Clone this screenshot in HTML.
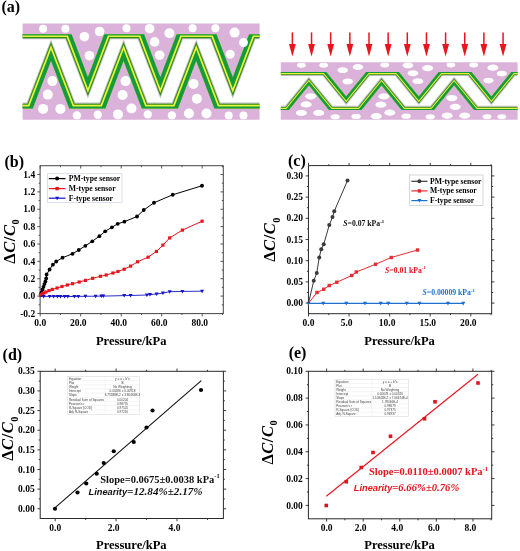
<!DOCTYPE html><html><head><meta charset="utf-8"><title>figure</title><style>html,body{margin:0;padding:0;background:#fff}svg{display:block}</style></head><body><svg width="520" height="551" viewBox="0 0 520 551">
<defs><filter id="blur" x="-5%" y="-20%" width="110%" height="140%"><feGaussianBlur stdDeviation="0.7"/></filter></defs>
<rect width="520" height="551" fill="#fff"/>
<clipPath id="cb"><rect x="22.6" y="39" width="237" height="80.8"/></clipPath>
<g clip-path="url(#cb)">
<polyline points="22.6,103.7 27.4,103.7 51,42 74.6,103.7 100,103.7 123.6,42 147.2,103.7 172.6,103.7 196.2,42 219.8,103.7 259.6,103.7" fill="none" stroke="#777" stroke-opacity="0.5" stroke-width="1.6" filter="url(#blur)" transform="translate(0,-0.3)"/>
<polygon points="17.6,108.1 22.6,108.1 32.46,108.1 51,59.63 69.54,108.1 105.06,108.1 123.6,59.63 142.14,108.1 177.66,108.1 196.2,59.63 214.74,108.1 259.6,108.1 264.6,108.1 264.6,124.8 17.6,124.8" fill="#dbb3da"/>
<polygon points="17.6,103.7 22.6,103.7 27.4,103.7 51,42 74.6,103.7 100,103.7 123.6,42 147.2,103.7 172.6,103.7 196.2,42 219.8,103.7 259.6,103.7 264.6,103.7 264.6,108.5 259.6,108.5 214.46,108.5 196.2,60.75 177.94,108.5 141.86,108.5 123.6,60.75 105.34,108.5 69.26,108.5 51,60.75 32.74,108.5 22.6,108.5 17.6,108.5" fill="#2f8a14"/>
<polygon points="17.6,104.85 22.6,104.85 28.08,104.85 51,44.94 73.92,104.85 100.68,104.85 123.6,44.94 146.52,104.85 173.28,104.85 196.2,44.94 219.12,104.85 259.6,104.85 264.6,104.85 264.6,108.5 259.6,108.5 214.46,108.5 196.2,60.75 177.94,108.5 141.86,108.5 123.6,60.75 105.34,108.5 69.26,108.5 51,60.75 32.74,108.5 22.6,108.5 17.6,108.5" fill="#e4f53a"/>
<polygon points="17.6,106.55 22.6,106.55 29.31,106.55 51,49.84 72.69,106.55 101.91,106.55 123.6,49.84 145.29,106.55 174.51,106.55 196.2,49.84 217.89,106.55 259.6,106.55 264.6,106.55 264.6,108.5 259.6,108.5 214.46,108.5 196.2,60.75 177.94,108.5 141.86,108.5 123.6,60.75 105.34,108.5 69.26,108.5 51,60.75 32.74,108.5 22.6,108.5 17.6,108.5" fill="#169a3e"/>
<ellipse cx="52.4" cy="81.1" rx="5" ry="5" fill="#fff"/>
<ellipse cx="47.8" cy="94.6" rx="5" ry="5" fill="#fff"/>
<ellipse cx="43.1" cy="108.9" rx="5" ry="5" fill="#fff"/>
<ellipse cx="60.4" cy="108.9" rx="5" ry="5" fill="#fff"/>
<ellipse cx="76.9" cy="115.4" rx="4.2" ry="4.2" fill="#fff"/>
<ellipse cx="97.8" cy="114.8" rx="4.2" ry="4.2" fill="#fff"/>
<ellipse cx="125.6" cy="81.1" rx="5" ry="5" fill="#fff"/>
<ellipse cx="122.6" cy="95" rx="5" ry="5" fill="#fff"/>
<ellipse cx="131.5" cy="108.5" rx="5" ry="5" fill="#fff"/>
<ellipse cx="118" cy="114.4" rx="5" ry="5" fill="#fff"/>
<ellipse cx="147.8" cy="114.4" rx="4.2" ry="4.2" fill="#fff"/>
<ellipse cx="171.9" cy="115.4" rx="4.2" ry="4.2" fill="#fff"/>
<ellipse cx="193.5" cy="83.9" rx="5" ry="5" fill="#fff"/>
<ellipse cx="196.9" cy="98.7" rx="5" ry="5" fill="#fff"/>
<ellipse cx="188.9" cy="113.5" rx="5" ry="5" fill="#fff"/>
<ellipse cx="206.5" cy="113.5" rx="5" ry="5" fill="#fff"/>
<ellipse cx="228.7" cy="115.4" rx="4" ry="4" fill="#fff"/>
<ellipse cx="243.5" cy="115.4" rx="4" ry="4" fill="#fff"/>
</g>
<clipPath id="ct"><rect x="22.6" y="23.6" width="237" height="75.4"/></clipPath>
<g clip-path="url(#ct)">
<polyline points="22.6,38.2 65.9,38.2 87.9,96 109.9,38.2 138.35,38.2 160.35,96 182.35,38.2 210.8,38.2 232.8,96 254.8,38.2 259.6,38.2" fill="none" stroke="#777" stroke-opacity="0.5" stroke-width="1.6" filter="url(#blur)" transform="translate(0,0.3)"/>
<polygon points="17.6,34.7 22.6,34.7 71.31,34.7 87.9,78.29 104.49,34.7 143.76,34.7 160.35,78.29 176.94,34.7 216.21,34.7 232.8,78.29 249.39,34.7 259.6,34.7 264.6,34.7 264.6,18.6 17.6,18.6" fill="#dbb3da"/>
<polygon points="17.6,38.2 22.6,38.2 65.9,38.2 87.9,96 109.9,38.2 138.35,38.2 160.35,96 182.35,38.2 210.8,38.2 232.8,96 254.8,38.2 259.6,38.2 264.6,38.2 264.6,34.3 259.6,34.3 249.12,34.3 232.8,77.17 216.48,34.3 176.67,34.3 160.35,77.17 144.03,34.3 104.22,34.3 87.9,77.17 71.58,34.3 22.6,34.3 17.6,34.3" fill="#2f8a14"/>
<polygon points="17.6,37.1 22.6,37.1 66.6,37.1 87.9,93.05 109.2,37.1 139.05,37.1 160.35,93.05 181.65,37.1 211.5,37.1 232.8,93.05 254.1,37.1 259.6,37.1 264.6,37.1 264.6,34.3 259.6,34.3 249.12,34.3 232.8,77.17 216.48,34.3 176.67,34.3 160.35,77.17 144.03,34.3 104.22,34.3 87.9,77.17 71.58,34.3 22.6,34.3 17.6,34.3" fill="#e4f53a"/>
<polygon points="17.6,35.6 22.6,35.6 67.91,35.6 87.9,88.13 107.89,35.6 140.36,35.6 160.35,88.13 180.34,35.6 212.81,35.6 232.8,88.13 252.79,35.6 259.6,35.6 264.6,35.6 264.6,34.3 259.6,34.3 249.12,34.3 232.8,77.17 216.48,34.3 176.67,34.3 160.35,77.17 144.03,34.3 104.22,34.3 87.9,77.17 71.58,34.3 22.6,34.3 17.6,34.3" fill="#169a3e"/>
<ellipse cx="43.1" cy="28.7" rx="4" ry="4" fill="#fff"/>
<ellipse cx="65.4" cy="28.7" rx="4" ry="4" fill="#fff"/>
<ellipse cx="84.4" cy="36.7" rx="4.8" ry="4.8" fill="#fff"/>
<ellipse cx="99.6" cy="31.5" rx="4.8" ry="4.8" fill="#fff"/>
<ellipse cx="89.4" cy="55.7" rx="4.8" ry="4.8" fill="#fff"/>
<ellipse cx="126.5" cy="28.3" rx="4" ry="4" fill="#fff"/>
<ellipse cx="149.6" cy="28.7" rx="4.8" ry="4.8" fill="#fff"/>
<ellipse cx="169.4" cy="33.3" rx="5" ry="5" fill="#fff"/>
<ellipse cx="154.6" cy="41.9" rx="4.8" ry="4.8" fill="#fff"/>
<ellipse cx="159.6" cy="55.2" rx="4.8" ry="4.8" fill="#fff"/>
<ellipse cx="192.6" cy="28.3" rx="4" ry="4" fill="#fff"/>
<ellipse cx="215.4" cy="28.3" rx="4" ry="4" fill="#fff"/>
<ellipse cx="234.6" cy="32.6" rx="5" ry="5" fill="#fff"/>
<ellipse cx="243.5" cy="42.6" rx="4.5" ry="4.5" fill="#fff"/>
<ellipse cx="230.2" cy="54.3" rx="4.5" ry="4.5" fill="#fff"/>
</g>
<clipPath id="cb2"><rect x="280.8" y="75.4" width="236.8" height="44.4"/></clipPath>
<g clip-path="url(#cb2)">
<polyline points="280.8,106.9 285.6,106.9 308.9,78.4 332.2,106.9 358.2,106.9 381.5,78.4 404.8,106.9 430.8,106.9 454.1,78.4 477.4,106.9 517.6,106.9" fill="none" stroke="#777" stroke-opacity="0.5" stroke-width="1.6" filter="url(#blur)" transform="translate(0,-0.3)"/>
<polygon points="275.8,109.5 280.8,109.5 288.64,109.5 308.9,84.72 329.16,109.5 361.24,109.5 381.5,84.72 401.76,109.5 433.84,109.5 454.1,84.72 474.36,109.5 517.6,109.5 522.6,109.5 522.6,124.8 275.8,124.8" fill="#dbb3da"/>
<polygon points="275.8,106.9 280.8,106.9 285.6,106.9 308.9,78.4 332.2,106.9 358.2,106.9 381.5,78.4 404.8,106.9 430.8,106.9 454.1,78.4 477.4,106.9 517.6,106.9 522.6,106.9 522.6,109.9 517.6,109.9 474.17,109.9 454.1,85.35 434.03,109.9 401.57,109.9 381.5,85.35 361.43,109.9 328.97,109.9 308.9,85.35 288.83,109.9 280.8,109.9 275.8,109.9" fill="#2f8a14"/>
<polygon points="275.8,107.7 280.8,107.7 285.98,107.7 308.9,79.66 331.82,107.7 358.58,107.7 381.5,79.66 404.42,107.7 431.18,107.7 454.1,79.66 477.02,107.7 517.6,107.7 522.6,107.7 522.6,109.9 517.6,109.9 474.17,109.9 454.1,85.35 434.03,109.9 401.57,109.9 381.5,85.35 361.43,109.9 328.97,109.9 308.9,85.35 288.83,109.9 280.8,109.9 275.8,109.9" fill="#e4f53a"/>
<polygon points="275.8,108.9 280.8,108.9 286.29,108.9 308.9,81.24 331.51,108.9 358.89,108.9 381.5,81.24 404.11,108.9 431.49,108.9 454.1,81.24 476.71,108.9 517.6,108.9 522.6,108.9 522.6,109.9 517.6,109.9 474.17,109.9 454.1,85.35 434.03,109.9 401.57,109.9 381.5,85.35 361.43,109.9 328.97,109.9 308.9,85.35 288.83,109.9 280.8,109.9 275.8,109.9" fill="#169a3e"/>
<ellipse cx="310.7" cy="96.37" rx="5.5" ry="3.1" fill="#fff"/>
<ellipse cx="306.1" cy="104.41" rx="5.5" ry="3.1" fill="#fff"/>
<ellipse cx="301.4" cy="112.91" rx="5.5" ry="3.1" fill="#fff"/>
<ellipse cx="318.7" cy="112.91" rx="5.5" ry="3.1" fill="#fff"/>
<ellipse cx="335.2" cy="116.78" rx="4.62" ry="2.6" fill="#fff"/>
<ellipse cx="356.1" cy="116.43" rx="4.62" ry="2.6" fill="#fff"/>
<ellipse cx="383.9" cy="96.37" rx="5.5" ry="3.1" fill="#fff"/>
<ellipse cx="380.9" cy="104.64" rx="5.5" ry="3.1" fill="#fff"/>
<ellipse cx="389.8" cy="112.68" rx="5.5" ry="3.1" fill="#fff"/>
<ellipse cx="376.3" cy="116.19" rx="5.5" ry="3.1" fill="#fff"/>
<ellipse cx="406.1" cy="116.19" rx="4.62" ry="2.6" fill="#fff"/>
<ellipse cx="430.2" cy="116.78" rx="4.62" ry="2.6" fill="#fff"/>
<ellipse cx="451.8" cy="98.04" rx="5.5" ry="3.1" fill="#fff"/>
<ellipse cx="455.2" cy="106.85" rx="5.5" ry="3.1" fill="#fff"/>
<ellipse cx="447.2" cy="115.65" rx="5.5" ry="3.1" fill="#fff"/>
<ellipse cx="464.8" cy="115.65" rx="5.5" ry="3.1" fill="#fff"/>
<ellipse cx="487" cy="116.78" rx="4.4" ry="2.48" fill="#fff"/>
<ellipse cx="501.8" cy="116.78" rx="4.4" ry="2.48" fill="#fff"/>
</g>
<clipPath id="ct2"><rect x="280.8" y="62.3" width="236.8" height="44.1"/></clipPath>
<g clip-path="url(#ct2)">
<polyline points="280.8,75 323.1,75 346.2,103.4 369.3,75 395.7,75 418.8,103.4 441.9,75 468.3,75 491.4,103.4 514.5,75 517.6,75" fill="none" stroke="#777" stroke-opacity="0.5" stroke-width="1.6" filter="url(#blur)" transform="translate(0,0.3)"/>
<polygon points="275.8,72.3 280.8,72.3 326.06,72.3 346.2,97.06 366.34,72.3 398.66,72.3 418.8,97.06 438.94,72.3 471.26,72.3 491.4,97.06 511.54,72.3 517.6,72.3 522.6,72.3 522.6,57.3 275.8,57.3" fill="#dbb3da"/>
<polygon points="275.8,75 280.8,75 323.1,75 346.2,103.4 369.3,75 395.7,75 418.8,103.4 441.9,75 468.3,75 491.4,103.4 514.5,75 517.6,75 522.6,75 522.6,71.9 517.6,71.9 511.35,71.9 491.4,96.43 471.45,71.9 438.75,71.9 418.8,96.43 398.85,71.9 366.15,71.9 346.2,96.43 326.25,71.9 280.8,71.9 275.8,71.9" fill="#2f8a14"/>
<polygon points="275.8,74.2 280.8,74.2 323.48,74.2 346.2,102.13 368.92,74.2 396.08,74.2 418.8,102.13 441.52,74.2 468.68,74.2 491.4,102.13 514.12,74.2 517.6,74.2 522.6,74.2 522.6,71.9 517.6,71.9 511.35,71.9 491.4,96.43 471.45,71.9 438.75,71.9 418.8,96.43 398.85,71.9 366.15,71.9 346.2,96.43 326.25,71.9 280.8,71.9 275.8,71.9" fill="#e4f53a"/>
<polygon points="275.8,73 280.8,73 323.79,73 346.2,100.55 368.61,73 396.39,73 418.8,100.55 441.21,73 468.99,73 491.4,100.55 513.81,73 517.6,73 522.6,73 522.6,71.9 517.6,71.9 511.35,71.9 491.4,96.43 471.45,71.9 438.75,71.9 418.8,96.43 398.85,71.9 366.15,71.9 346.2,96.43 326.25,71.9 280.8,71.9 275.8,71.9" fill="#169a3e"/>
<ellipse cx="301.4" cy="65.34" rx="4.4" ry="2.48" fill="#fff"/>
<ellipse cx="323.7" cy="65.34" rx="4.4" ry="2.48" fill="#fff"/>
<ellipse cx="342.7" cy="70.11" rx="5.28" ry="2.98" fill="#fff"/>
<ellipse cx="357.9" cy="67.01" rx="5.28" ry="2.98" fill="#fff"/>
<ellipse cx="347.7" cy="81.43" rx="5.28" ry="2.98" fill="#fff"/>
<ellipse cx="384.8" cy="65.1" rx="4.4" ry="2.48" fill="#fff"/>
<ellipse cx="407.9" cy="65.34" rx="5.28" ry="2.98" fill="#fff"/>
<ellipse cx="427.7" cy="68.08" rx="5.5" ry="3.1" fill="#fff"/>
<ellipse cx="412.9" cy="73.21" rx="5.28" ry="2.98" fill="#fff"/>
<ellipse cx="417.9" cy="81.13" rx="5.28" ry="2.98" fill="#fff"/>
<ellipse cx="450.9" cy="65.1" rx="4.4" ry="2.48" fill="#fff"/>
<ellipse cx="473.7" cy="65.1" rx="4.4" ry="2.48" fill="#fff"/>
<ellipse cx="492.9" cy="67.66" rx="5.5" ry="3.1" fill="#fff"/>
<ellipse cx="501.8" cy="73.62" rx="4.95" ry="2.79" fill="#fff"/>
<ellipse cx="488.5" cy="80.6" rx="4.95" ry="2.79" fill="#fff"/>
</g>
<path d="M292.4 32.4V45" stroke="#e8141e" stroke-width="1.5" fill="none"/>
<path d="M289 44.1H295.8L292.4 56.4Z" fill="#e8141e"/>
<path d="M311.55 32.4V45" stroke="#e8141e" stroke-width="1.5" fill="none"/>
<path d="M308.15 44.1H314.95L311.55 56.4Z" fill="#e8141e"/>
<path d="M330.7 32.4V45" stroke="#e8141e" stroke-width="1.5" fill="none"/>
<path d="M327.3 44.1H334.1L330.7 56.4Z" fill="#e8141e"/>
<path d="M349.85 32.4V45" stroke="#e8141e" stroke-width="1.5" fill="none"/>
<path d="M346.45 44.1H353.25L349.85 56.4Z" fill="#e8141e"/>
<path d="M369 32.4V45" stroke="#e8141e" stroke-width="1.5" fill="none"/>
<path d="M365.6 44.1H372.4L369 56.4Z" fill="#e8141e"/>
<path d="M388.15 32.4V45" stroke="#e8141e" stroke-width="1.5" fill="none"/>
<path d="M384.75 44.1H391.55L388.15 56.4Z" fill="#e8141e"/>
<path d="M407.3 32.4V45" stroke="#e8141e" stroke-width="1.5" fill="none"/>
<path d="M403.9 44.1H410.7L407.3 56.4Z" fill="#e8141e"/>
<path d="M426.45 32.4V45" stroke="#e8141e" stroke-width="1.5" fill="none"/>
<path d="M423.05 44.1H429.85L426.45 56.4Z" fill="#e8141e"/>
<path d="M445.6 32.4V45" stroke="#e8141e" stroke-width="1.5" fill="none"/>
<path d="M442.2 44.1H449L445.6 56.4Z" fill="#e8141e"/>
<path d="M464.75 32.4V45" stroke="#e8141e" stroke-width="1.5" fill="none"/>
<path d="M461.35 44.1H468.15L464.75 56.4Z" fill="#e8141e"/>
<path d="M483.9 32.4V45" stroke="#e8141e" stroke-width="1.5" fill="none"/>
<path d="M480.5 44.1H487.3L483.9 56.4Z" fill="#e8141e"/>
<path d="M503.05 32.4V45" stroke="#e8141e" stroke-width="1.5" fill="none"/>
<path d="M499.65 44.1H506.45L503.05 56.4Z" fill="#e8141e"/>
<rect x="40.1" y="165.7" width="183.2" height="147.9" fill="#fff" stroke="#444" stroke-width="1"/>
<text x="40.2" y="325.8" font-family='"Liberation Serif","Times New Roman",serif' font-size="9.5" font-weight="bold" font-style="normal" text-anchor="middle" fill="#000">0.0</text>
<text x="78.2" y="325.8" font-family='"Liberation Serif","Times New Roman",serif' font-size="9.5" font-weight="bold" font-style="normal" text-anchor="middle" fill="#000">20.0</text>
<text x="118.7" y="325.8" font-family='"Liberation Serif","Times New Roman",serif' font-size="9.5" font-weight="bold" font-style="normal" text-anchor="middle" fill="#000">40.0</text>
<text x="159.2" y="325.8" font-family='"Liberation Serif","Times New Roman",serif' font-size="9.5" font-weight="bold" font-style="normal" text-anchor="middle" fill="#000">60.0</text>
<text x="199.7" y="325.8" font-family='"Liberation Serif","Times New Roman",serif' font-size="9.5" font-weight="bold" font-style="normal" text-anchor="middle" fill="#000">80.0</text>
<text x="35.2" y="316.61" font-family='"Liberation Serif","Times New Roman",serif' font-size="9.5" font-weight="bold" font-style="normal" text-anchor="end" fill="#000">-0.2</text>
<text x="35.2" y="299.24" font-family='"Liberation Serif","Times New Roman",serif' font-size="9.5" font-weight="bold" font-style="normal" text-anchor="end" fill="#000">0.0</text>
<text x="35.2" y="281.87" font-family='"Liberation Serif","Times New Roman",serif' font-size="9.5" font-weight="bold" font-style="normal" text-anchor="end" fill="#000">0.2</text>
<text x="35.2" y="264.5" font-family='"Liberation Serif","Times New Roman",serif' font-size="9.5" font-weight="bold" font-style="normal" text-anchor="end" fill="#000">0.4</text>
<text x="35.2" y="247.13" font-family='"Liberation Serif","Times New Roman",serif' font-size="9.5" font-weight="bold" font-style="normal" text-anchor="end" fill="#000">0.6</text>
<text x="35.2" y="229.75" font-family='"Liberation Serif","Times New Roman",serif' font-size="9.5" font-weight="bold" font-style="normal" text-anchor="end" fill="#000">0.8</text>
<text x="35.2" y="212.39" font-family='"Liberation Serif","Times New Roman",serif' font-size="9.5" font-weight="bold" font-style="normal" text-anchor="end" fill="#000">1.0</text>
<text x="35.2" y="195.02" font-family='"Liberation Serif","Times New Roman",serif' font-size="9.5" font-weight="bold" font-style="normal" text-anchor="end" fill="#000">1.2</text>
<text x="35.2" y="177.65" font-family='"Liberation Serif","Times New Roman",serif' font-size="9.5" font-weight="bold" font-style="normal" text-anchor="end" fill="#000">1.4</text>
<path d="M40.2 313.6V316.4M40.2 165.7V168.5M80.7 313.6V316.4M80.7 165.7V168.5M121.2 313.6V316.4M121.2 165.7V168.5M161.7 313.6V316.4M161.7 165.7V168.5M202.2 313.6V316.4M202.2 165.7V168.5M60.45 313.6V315.1M60.45 165.7V167.2M100.95 313.6V315.1M100.95 165.7V167.2M141.45 313.6V315.1M141.45 165.7V167.2M181.95 313.6V315.1M181.95 165.7V167.2M222.45 313.6V315.1M222.45 165.7V167.2M40.1 313.47H37.3M223.3 313.47H220.5M40.1 296.1H37.3M223.3 296.1H220.5M40.1 278.73H37.3M223.3 278.73H220.5M40.1 261.36H37.3M223.3 261.36H220.5M40.1 243.99H37.3M223.3 243.99H220.5M40.1 226.62H37.3M223.3 226.62H220.5M40.1 209.25H37.3M223.3 209.25H220.5M40.1 191.88H37.3M223.3 191.88H220.5M40.1 174.51H37.3M223.3 174.51H220.5M40.1 304.79H38.6M223.3 304.79H221.8M40.1 287.42H38.6M223.3 287.42H221.8M40.1 270.05H38.6M223.3 270.05H221.8M40.1 252.68H38.6M223.3 252.68H221.8M40.1 235.31H38.6M223.3 235.31H221.8M40.1 217.94H38.6M223.3 217.94H221.8M40.1 200.57H38.6M223.3 200.57H221.8M40.1 183.2H38.6M223.3 183.2H221.8" stroke="#444" stroke-width="0.9" fill="none"/>
<text x="131.2" y="345" font-family='"Liberation Serif","Times New Roman",serif' font-size="12.55" font-weight="bold" font-style="normal" text-anchor="middle" fill="#000">Pressure/kPa</text>
<text transform="translate(14.7,241.3) rotate(-90)" font-family='"Liberation Serif","Times New Roman",serif' font-size="16.5" font-weight="bold" text-anchor="middle" letter-spacing="0.55" fill="#000">Δ<tspan font-style="italic">C</tspan>/<tspan font-style="italic">C</tspan><tspan font-size="10.23" dy="4.62">0</tspan></text>
<polyline points="40.7,294.6 41.5,292.3 42.5,289.5 43.5,286.8 44.4,284.1 45.4,281.4 46.2,278.4 46.6,274.5 49.6,269.5 52.9,264.7 56.2,261.5 62.5,257.7 72.5,253.8 78.8,250 85.4,245.8 92.3,241.3 99.4,236.2 105.2,231.3 111.9,227.3 117.7,223.8 124.4,221.7 137,216.5 143.75,210 154,202.75 172.75,194.75 202,185.75" fill="none" stroke="#000" stroke-width="1" stroke-linejoin="round"/>
<circle cx="40.7" cy="294.6" r="1.9" fill="#000"/>
<circle cx="41.5" cy="292.3" r="1.9" fill="#000"/>
<circle cx="42.5" cy="289.5" r="1.9" fill="#000"/>
<circle cx="43.5" cy="286.8" r="1.9" fill="#000"/>
<circle cx="44.4" cy="284.1" r="1.9" fill="#000"/>
<circle cx="45.4" cy="281.4" r="1.9" fill="#000"/>
<circle cx="46.2" cy="278.4" r="1.9" fill="#000"/>
<circle cx="46.6" cy="274.5" r="1.9" fill="#000"/>
<circle cx="49.6" cy="269.5" r="1.9" fill="#000"/>
<circle cx="52.9" cy="264.7" r="1.9" fill="#000"/>
<circle cx="56.2" cy="261.5" r="1.9" fill="#000"/>
<circle cx="62.5" cy="257.7" r="1.9" fill="#000"/>
<circle cx="72.5" cy="253.8" r="1.9" fill="#000"/>
<circle cx="78.8" cy="250" r="1.9" fill="#000"/>
<circle cx="85.4" cy="245.8" r="1.9" fill="#000"/>
<circle cx="92.3" cy="241.3" r="1.9" fill="#000"/>
<circle cx="99.4" cy="236.2" r="1.9" fill="#000"/>
<circle cx="105.2" cy="231.3" r="1.9" fill="#000"/>
<circle cx="111.9" cy="227.3" r="1.9" fill="#000"/>
<circle cx="117.7" cy="223.8" r="1.9" fill="#000"/>
<circle cx="124.4" cy="221.7" r="1.9" fill="#000"/>
<circle cx="137" cy="216.5" r="1.9" fill="#000"/>
<circle cx="143.75" cy="210" r="1.9" fill="#000"/>
<circle cx="154" cy="202.75" r="1.9" fill="#000"/>
<circle cx="172.75" cy="194.75" r="1.9" fill="#000"/>
<circle cx="202" cy="185.75" r="1.9" fill="#000"/>
<polyline points="40.6,295.3 41.5,294.6 42.6,293.8 44,293 46,292 49,290.6 52.3,289.4 57.1,288 62,286.5 67.3,285 72.5,283.7 79.2,282 85.4,280.4 92.7,278.3 100.4,276.3 106.2,275 112.9,273 118,271.5 124.2,269.2 130.6,266.1 137.6,261.8 148.1,257.2 156.4,251.5 162.9,245.1 169.7,237.9 182.4,230.1 202.1,221.2" fill="none" stroke="#e8141e" stroke-width="1" stroke-linejoin="round"/>
<rect x="39" y="293.7" width="3.2" height="3.2" fill="#e8141e"/>
<rect x="39.9" y="293" width="3.2" height="3.2" fill="#e8141e"/>
<rect x="41" y="292.2" width="3.2" height="3.2" fill="#e8141e"/>
<rect x="42.4" y="291.4" width="3.2" height="3.2" fill="#e8141e"/>
<rect x="44.4" y="290.4" width="3.2" height="3.2" fill="#e8141e"/>
<rect x="47.4" y="289" width="3.2" height="3.2" fill="#e8141e"/>
<rect x="50.7" y="287.8" width="3.2" height="3.2" fill="#e8141e"/>
<rect x="55.5" y="286.4" width="3.2" height="3.2" fill="#e8141e"/>
<rect x="60.4" y="284.9" width="3.2" height="3.2" fill="#e8141e"/>
<rect x="65.7" y="283.4" width="3.2" height="3.2" fill="#e8141e"/>
<rect x="70.9" y="282.1" width="3.2" height="3.2" fill="#e8141e"/>
<rect x="77.6" y="280.4" width="3.2" height="3.2" fill="#e8141e"/>
<rect x="83.8" y="278.8" width="3.2" height="3.2" fill="#e8141e"/>
<rect x="91.1" y="276.7" width="3.2" height="3.2" fill="#e8141e"/>
<rect x="98.8" y="274.7" width="3.2" height="3.2" fill="#e8141e"/>
<rect x="104.6" y="273.4" width="3.2" height="3.2" fill="#e8141e"/>
<rect x="111.3" y="271.4" width="3.2" height="3.2" fill="#e8141e"/>
<rect x="116.4" y="269.9" width="3.2" height="3.2" fill="#e8141e"/>
<rect x="122.6" y="267.6" width="3.2" height="3.2" fill="#e8141e"/>
<rect x="129" y="264.5" width="3.2" height="3.2" fill="#e8141e"/>
<rect x="136" y="260.2" width="3.2" height="3.2" fill="#e8141e"/>
<rect x="146.5" y="255.6" width="3.2" height="3.2" fill="#e8141e"/>
<rect x="154.8" y="249.9" width="3.2" height="3.2" fill="#e8141e"/>
<rect x="161.3" y="243.5" width="3.2" height="3.2" fill="#e8141e"/>
<rect x="168.1" y="236.3" width="3.2" height="3.2" fill="#e8141e"/>
<rect x="180.8" y="228.5" width="3.2" height="3.2" fill="#e8141e"/>
<rect x="200.5" y="219.6" width="3.2" height="3.2" fill="#e8141e"/>
<polyline points="40.3,296.3 43.7,296.4 49.6,296.4 53.7,296.4 57.4,296.5 60.5,296.5 64.6,296.5 67.8,296.5 74.4,296.5 78.3,296.4 85.4,296.3 95.6,296.2 101.3,296.1 103.3,296.1 124.2,295.6 130.6,295.5 146.9,295 150,294.6 156.6,294 162.9,293.1 169.7,291.7 182.4,291.4 202.1,291.2" fill="none" stroke="#1414c8" stroke-width="0.9" stroke-linejoin="round"/>
<path d="M41.7 294.9H45.7L43.7 298.4Z" fill="#1414c8"/>
<path d="M47.6 294.9H51.6L49.6 298.4Z" fill="#1414c8"/>
<path d="M51.7 294.9H55.7L53.7 298.4Z" fill="#1414c8"/>
<path d="M55.4 295H59.4L57.4 298.5Z" fill="#1414c8"/>
<path d="M58.5 295H62.5L60.5 298.5Z" fill="#1414c8"/>
<path d="M62.6 295H66.6L64.6 298.5Z" fill="#1414c8"/>
<path d="M65.8 295H69.8L67.8 298.5Z" fill="#1414c8"/>
<path d="M72.4 295H76.4L74.4 298.5Z" fill="#1414c8"/>
<path d="M76.3 294.9H80.3L78.3 298.4Z" fill="#1414c8"/>
<path d="M83.4 294.8H87.4L85.4 298.3Z" fill="#1414c8"/>
<path d="M93.6 294.7H97.6L95.6 298.2Z" fill="#1414c8"/>
<path d="M99.3 294.6H103.3L101.3 298.1Z" fill="#1414c8"/>
<path d="M101.3 294.6H105.3L103.3 298.1Z" fill="#1414c8"/>
<path d="M122.2 294.1H126.2L124.2 297.6Z" fill="#1414c8"/>
<path d="M128.6 294H132.6L130.6 297.5Z" fill="#1414c8"/>
<path d="M144.9 293.5H148.9L146.9 297Z" fill="#1414c8"/>
<path d="M148 293.1H152L150 296.6Z" fill="#1414c8"/>
<path d="M154.6 292.5H158.6L156.6 296Z" fill="#1414c8"/>
<path d="M160.9 291.6H164.9L162.9 295.1Z" fill="#1414c8"/>
<path d="M167.7 290.2H171.7L169.7 293.7Z" fill="#1414c8"/>
<path d="M180.4 289.9H184.4L182.4 293.4Z" fill="#1414c8"/>
<path d="M200.1 289.7H204.1L202.1 293.2Z" fill="#1414c8"/>
<rect x="47.6" y="173.8" width="74.4" height="28.6" fill="#fff" stroke="#c4c8de" stroke-width="0.6"/>
<polyline points="48.8,178.6 65.5,178.6" fill="none" stroke="#000" stroke-width="1.2" stroke-linejoin="round"/>
<circle cx="57.15" cy="178.6" r="2" fill="#000"/>
<text x="68.8" y="180.91" font-family='"Liberation Serif","Times New Roman",serif' font-size="7.7" font-weight="bold" font-style="normal" text-anchor="start" fill="#000">PM-type sensor</text>
<polyline points="48.8,188.6 65.5,188.6" fill="none" stroke="#e8141e" stroke-width="1.2" stroke-linejoin="round"/>
<rect x="55.45" y="186.9" width="3.4" height="3.4" fill="#e8141e"/>
<text x="68.8" y="190.91" font-family='"Liberation Serif","Times New Roman",serif' font-size="7.7" font-weight="bold" font-style="normal" text-anchor="start" fill="#000">M-type sensor</text>
<polyline points="48.8,198.2 65.5,198.2" fill="none" stroke="#1414c8" stroke-width="1.2" stroke-linejoin="round"/>
<path d="M55.15 196.7H59.15L57.15 200.2Z" fill="#1414c8"/>
<text x="68.8" y="200.51" font-family='"Liberation Serif","Times New Roman",serif' font-size="7.7" font-weight="bold" font-style="normal" text-anchor="start" fill="#000">F-type sensor</text>
<text x="4.5" y="167" font-family='"Liberation Serif","Times New Roman",serif' font-size="16" font-weight="bold" font-style="normal" text-anchor="start" fill="#000">(b)</text>
<rect x="308.45" y="165.6" width="183.2" height="148.1" fill="#fff" stroke="#2a2a2a" stroke-width="1"/>
<text x="308.5" y="325.6" font-family='"Liberation Serif","Times New Roman",serif' font-size="9.5" font-weight="bold" font-style="normal" text-anchor="middle" fill="#000">0.0</text>
<text x="346.57" y="325.6" font-family='"Liberation Serif","Times New Roman",serif' font-size="9.5" font-weight="bold" font-style="normal" text-anchor="middle" fill="#000">5.0</text>
<text x="387.15" y="325.6" font-family='"Liberation Serif","Times New Roman",serif' font-size="9.5" font-weight="bold" font-style="normal" text-anchor="middle" fill="#000">10.0</text>
<text x="427.73" y="325.6" font-family='"Liberation Serif","Times New Roman",serif' font-size="9.5" font-weight="bold" font-style="normal" text-anchor="middle" fill="#000">15.0</text>
<text x="468.3" y="325.6" font-family='"Liberation Serif","Times New Roman",serif' font-size="9.5" font-weight="bold" font-style="normal" text-anchor="middle" fill="#000">20.0</text>
<text x="303" y="306.24" font-family='"Liberation Serif","Times New Roman",serif' font-size="9.5" font-weight="bold" font-style="normal" text-anchor="end" fill="#000">0.00</text>
<text x="303" y="285.04" font-family='"Liberation Serif","Times New Roman",serif' font-size="9.5" font-weight="bold" font-style="normal" text-anchor="end" fill="#000">0.05</text>
<text x="303" y="263.84" font-family='"Liberation Serif","Times New Roman",serif' font-size="9.5" font-weight="bold" font-style="normal" text-anchor="end" fill="#000">0.10</text>
<text x="303" y="242.64" font-family='"Liberation Serif","Times New Roman",serif' font-size="9.5" font-weight="bold" font-style="normal" text-anchor="end" fill="#000">0.15</text>
<text x="303" y="221.44" font-family='"Liberation Serif","Times New Roman",serif' font-size="9.5" font-weight="bold" font-style="normal" text-anchor="end" fill="#000">0.20</text>
<text x="303" y="200.24" font-family='"Liberation Serif","Times New Roman",serif' font-size="9.5" font-weight="bold" font-style="normal" text-anchor="end" fill="#000">0.25</text>
<text x="303" y="179.04" font-family='"Liberation Serif","Times New Roman",serif' font-size="9.5" font-weight="bold" font-style="normal" text-anchor="end" fill="#000">0.30</text>
<path d="M308.5 313.7V316.5M308.5 165.6V162.8M349.07 313.7V316.5M349.07 165.6V162.8M389.65 313.7V316.5M389.65 165.6V162.8M430.23 313.7V316.5M430.23 165.6V162.8M470.8 313.7V316.5M470.8 165.6V162.8M328.79 313.7V315.2M328.79 165.6V164.1M369.36 313.7V315.2M369.36 165.6V164.1M409.94 313.7V315.2M409.94 165.6V164.1M450.51 313.7V315.2M450.51 165.6V164.1M491.09 313.7V315.2M491.09 165.6V164.1M308.45 303.1H305.65M491.65 303.1H494.45M308.45 281.9H305.65M491.65 281.9H494.45M308.45 260.7H305.65M491.65 260.7H494.45M308.45 239.5H305.65M491.65 239.5H494.45M308.45 218.3H305.65M491.65 218.3H494.45M308.45 197.1H305.65M491.65 197.1H494.45M308.45 175.9H305.65M491.65 175.9H494.45M308.45 292.5H306.95M491.65 292.5H493.15M308.45 271.3H306.95M491.65 271.3H493.15M308.45 250.1H306.95M491.65 250.1H493.15M308.45 228.9H306.95M491.65 228.9H493.15M308.45 207.7H306.95M491.65 207.7H493.15M308.45 186.5H306.95M491.65 186.5H493.15" stroke="#2a2a2a" stroke-width="0.9" fill="none"/>
<text x="399.55" y="345" font-family='"Liberation Serif","Times New Roman",serif' font-size="12.55" font-weight="bold" font-style="normal" text-anchor="middle" fill="#000">Pressure/kPa</text>
<text transform="translate(275.2,239.4) rotate(-90)" font-family='"Liberation Serif","Times New Roman",serif' font-size="16.5" font-weight="bold" text-anchor="middle" letter-spacing="0.55" fill="#000">Δ<tspan font-style="italic">C</tspan>/<tspan font-style="italic">C</tspan><tspan font-size="10.23" dy="4.62">0</tspan></text>
<polyline points="308.5,303.3 323.25,303.3 346.25,303.3 365,303.3 380.75,303.3 388.25,303.3 406.75,303.3 419.5,303.3 448,303.3 463.25,303.3" fill="none" stroke="#1f6fd0" stroke-width="1.3" stroke-linejoin="round"/>
<path d="M306.4 301.73H310.6L308.5 305.4Z" fill="#1f6fd0"/>
<path d="M321.15 301.73H325.35L323.25 305.4Z" fill="#1f6fd0"/>
<path d="M344.15 301.73H348.35L346.25 305.4Z" fill="#1f6fd0"/>
<path d="M362.9 301.73H367.1L365 305.4Z" fill="#1f6fd0"/>
<path d="M378.65 301.73H382.85L380.75 305.4Z" fill="#1f6fd0"/>
<path d="M386.15 301.73H390.35L388.25 305.4Z" fill="#1f6fd0"/>
<path d="M404.65 301.73H408.85L406.75 305.4Z" fill="#1f6fd0"/>
<path d="M417.4 301.73H421.6L419.5 305.4Z" fill="#1f6fd0"/>
<path d="M445.9 301.73H450.1L448 305.4Z" fill="#1f6fd0"/>
<path d="M461.15 301.73H465.35L463.25 305.4Z" fill="#1f6fd0"/>
<polyline points="308.5,303.1 317,292.5 323.75,289.25 329.25,285.5 336.75,282.25 351.75,275.5 356.25,272 375.5,264.25 391.25,257.5 417.5,250" fill="none" stroke="#ea2a32" stroke-width="1" stroke-linejoin="round"/>
<rect x="315.3" y="290.8" width="3.4" height="3.4" fill="#ea2a32"/>
<rect x="322.05" y="287.55" width="3.4" height="3.4" fill="#ea2a32"/>
<rect x="327.55" y="283.8" width="3.4" height="3.4" fill="#ea2a32"/>
<rect x="335.05" y="280.55" width="3.4" height="3.4" fill="#ea2a32"/>
<rect x="350.05" y="273.8" width="3.4" height="3.4" fill="#ea2a32"/>
<rect x="354.55" y="270.3" width="3.4" height="3.4" fill="#ea2a32"/>
<rect x="373.8" y="262.55" width="3.4" height="3.4" fill="#ea2a32"/>
<rect x="389.55" y="255.8" width="3.4" height="3.4" fill="#ea2a32"/>
<rect x="415.8" y="248.3" width="3.4" height="3.4" fill="#ea2a32"/>
<polyline points="308.5,303.1 313.75,280.75 316.75,273 319.25,257.5 321.25,249.25 323.75,244.25 329.25,225 332.5,217 334.25,211.25 347.5,180.5" fill="none" stroke="#3a3a3a" stroke-width="1" stroke-linejoin="round"/>
<circle cx="313.75" cy="280.75" r="2" fill="#3a3a3a"/>
<circle cx="316.75" cy="273" r="2" fill="#3a3a3a"/>
<circle cx="319.25" cy="257.5" r="2" fill="#3a3a3a"/>
<circle cx="321.25" cy="249.25" r="2" fill="#3a3a3a"/>
<circle cx="323.75" cy="244.25" r="2" fill="#3a3a3a"/>
<circle cx="329.25" cy="225" r="2" fill="#3a3a3a"/>
<circle cx="332.5" cy="217" r="2" fill="#3a3a3a"/>
<circle cx="334.25" cy="211.25" r="2" fill="#3a3a3a"/>
<circle cx="347.5" cy="180.5" r="2" fill="#3a3a3a"/>
<rect x="409.5" y="175" width="73.5" height="30.5" fill="#fff" stroke="#bbb" stroke-width="0.6"/>
<polyline points="411.3,181.3 427.5,181.3" fill="none" stroke="#3a3a3a" stroke-width="1.2" stroke-linejoin="round"/>
<circle cx="419.4" cy="181.3" r="2" fill="#3a3a3a"/>
<text x="430" y="183.61" font-family='"Liberation Serif","Times New Roman",serif' font-size="7.7" font-weight="bold" font-style="normal" text-anchor="start" fill="#000">PM-type sensor</text>
<polyline points="411.3,190.9 427.5,190.9" fill="none" stroke="#ea2a32" stroke-width="1.2" stroke-linejoin="round"/>
<rect x="417.7" y="189.2" width="3.4" height="3.4" fill="#ea2a32"/>
<text x="430" y="193.21" font-family='"Liberation Serif","Times New Roman",serif' font-size="7.7" font-weight="bold" font-style="normal" text-anchor="start" fill="#000">M-type sensor</text>
<polyline points="411.3,200.6 427.5,200.6" fill="none" stroke="#1f6fd0" stroke-width="1.2" stroke-linejoin="round"/>
<path d="M417.4 199.1H421.4L419.4 202.6Z" fill="#1f6fd0"/>
<text x="430" y="202.91" font-family='"Liberation Serif","Times New Roman",serif' font-size="7.7" font-weight="bold" font-style="normal" text-anchor="start" fill="#000">F-type sensor</text>
<text x="343.3" y="226.3" font-family='"Liberation Serif","Times New Roman",serif' font-size="7.7" font-weight="bold" fill="#111"><tspan font-style="italic">S</tspan>=0.07 kPa<tspan font-size="4.77" dy="-3.23">-1</tspan></text>
<text x="385" y="272.5" font-family='"Liberation Serif","Times New Roman",serif' font-size="7.7" font-weight="bold" fill="#e8141e"><tspan font-style="italic">S</tspan>=0.01 kPa<tspan font-size="4.77" dy="-3.23">-1</tspan></text>
<text x="422.5" y="295" font-family='"Liberation Serif","Times New Roman",serif' font-size="7.7" font-weight="bold" fill="#1f6fd0"><tspan font-style="italic">S</tspan>=0.00009 kPa<tspan font-size="4.77" dy="-3.23">-1</tspan></text>
<text x="288" y="166" font-family='"Liberation Serif","Times New Roman",serif' font-size="16" font-weight="bold" font-style="normal" text-anchor="start" fill="#000">(c)</text>
<rect x="40.2" y="371.3" width="183.2" height="147.2" fill="#fff" stroke="#2a2a2a" stroke-width="1"/>
<text x="55.2" y="530.8" font-family='"Liberation Serif","Times New Roman",serif' font-size="9.5" font-weight="bold" font-style="normal" text-anchor="middle" fill="#000">0.0</text>
<text x="113.6" y="530.8" font-family='"Liberation Serif","Times New Roman",serif' font-size="9.5" font-weight="bold" font-style="normal" text-anchor="middle" fill="#000">2.0</text>
<text x="174.5" y="530.8" font-family='"Liberation Serif","Times New Roman",serif' font-size="9.5" font-weight="bold" font-style="normal" text-anchor="middle" fill="#000">4.0</text>
<text x="34.7" y="511.88" font-family='"Liberation Serif","Times New Roman",serif' font-size="9.5" font-weight="bold" font-style="normal" text-anchor="end" fill="#000">0.00</text>
<text x="34.7" y="492.25" font-family='"Liberation Serif","Times New Roman",serif' font-size="9.5" font-weight="bold" font-style="normal" text-anchor="end" fill="#000">0.05</text>
<text x="34.7" y="472.61" font-family='"Liberation Serif","Times New Roman",serif' font-size="9.5" font-weight="bold" font-style="normal" text-anchor="end" fill="#000">0.10</text>
<text x="34.7" y="452.96" font-family='"Liberation Serif","Times New Roman",serif' font-size="9.5" font-weight="bold" font-style="normal" text-anchor="end" fill="#000">0.15</text>
<text x="34.7" y="433.32" font-family='"Liberation Serif","Times New Roman",serif' font-size="9.5" font-weight="bold" font-style="normal" text-anchor="end" fill="#000">0.20</text>
<text x="34.7" y="413.69" font-family='"Liberation Serif","Times New Roman",serif' font-size="9.5" font-weight="bold" font-style="normal" text-anchor="end" fill="#000">0.25</text>
<text x="34.7" y="394.04" font-family='"Liberation Serif","Times New Roman",serif' font-size="9.5" font-weight="bold" font-style="normal" text-anchor="end" fill="#000">0.30</text>
<text x="34.7" y="374.4" font-family='"Liberation Serif","Times New Roman",serif' font-size="9.5" font-weight="bold" font-style="normal" text-anchor="end" fill="#000">0.35</text>
<path d="M55.2 518.5V521.3M55.2 371.3V368.5M116.1 518.5V521.3M116.1 371.3V368.5M177 518.5V521.3M177 371.3V368.5M85.65 518.5V520M85.65 371.3V369.8M146.55 518.5V520M146.55 371.3V369.8M207.45 518.5V520M207.45 371.3V369.8M40.2 508.75H37.4M223.4 508.75H226.2M40.2 489.11H37.4M223.4 489.11H226.2M40.2 469.47H37.4M223.4 469.47H226.2M40.2 449.83H37.4M223.4 449.83H226.2M40.2 430.19H37.4M223.4 430.19H226.2M40.2 410.55H37.4M223.4 410.55H226.2M40.2 390.91H37.4M223.4 390.91H226.2M40.2 371.27H37.4M223.4 371.27H226.2M40.2 498.93H38.7M223.4 498.93H224.9M40.2 479.29H38.7M223.4 479.29H224.9M40.2 459.65H38.7M223.4 459.65H224.9M40.2 440.01H38.7M223.4 440.01H224.9M40.2 420.37H38.7M223.4 420.37H224.9M40.2 400.73H38.7M223.4 400.73H224.9M40.2 381.09H38.7M223.4 381.09H224.9" stroke="#2a2a2a" stroke-width="0.9" fill="none"/>
<text x="131.3" y="549" font-family='"Liberation Serif","Times New Roman",serif' font-size="12.55" font-weight="bold" font-style="normal" text-anchor="middle" fill="#000">Pressure/kPa</text>
<text transform="translate(13,438.4) rotate(-90)" font-family='"Liberation Serif","Times New Roman",serif' font-size="16.5" font-weight="bold" text-anchor="middle" letter-spacing="0.55" fill="#000">Δ<tspan font-style="italic">C</tspan>/<tspan font-style="italic">C</tspan><tspan font-size="10.23" dy="4.62">0</tspan></text>
<path d="M54 508.6L201.3 380.6" stroke="#111" stroke-width="1.1" fill="none"/>
<circle cx="55" cy="508.75" r="2.1" fill="#000"/>
<circle cx="77.5" cy="492.5" r="2.1" fill="#000"/>
<circle cx="86.25" cy="483.5" r="2.1" fill="#000"/>
<circle cx="96.75" cy="473.75" r="2.1" fill="#000"/>
<circle cx="103.75" cy="463" r="2.1" fill="#000"/>
<circle cx="113.75" cy="451.25" r="2.1" fill="#000"/>
<circle cx="133.75" cy="442" r="2.1" fill="#000"/>
<circle cx="146.5" cy="427.5" r="2.1" fill="#000"/>
<circle cx="152.5" cy="410.5" r="2.1" fill="#000"/>
<circle cx="201" cy="390" r="2.1" fill="#000"/>
<text x="2.6" y="359.7" font-family='"Liberation Serif","Times New Roman",serif' font-size="16" font-weight="bold" font-style="normal" text-anchor="start" fill="#000">(d)</text>
<rect x="308.4" y="371.3" width="183.3" height="147.5" fill="#fff" stroke="#2a2a2a" stroke-width="1"/>
<text x="326.6" y="530.8" font-family='"Liberation Serif","Times New Roman",serif' font-size="9.5" font-weight="bold" font-style="normal" text-anchor="middle" fill="#000">0.0</text>
<text x="360.68" y="530.8" font-family='"Liberation Serif","Times New Roman",serif' font-size="9.5" font-weight="bold" font-style="normal" text-anchor="middle" fill="#000">2.0</text>
<text x="397.26" y="530.8" font-family='"Liberation Serif","Times New Roman",serif' font-size="9.5" font-weight="bold" font-style="normal" text-anchor="middle" fill="#000">4.0</text>
<text x="433.84" y="530.8" font-family='"Liberation Serif","Times New Roman",serif' font-size="9.5" font-weight="bold" font-style="normal" text-anchor="middle" fill="#000">6.0</text>
<text x="470.42" y="530.8" font-family='"Liberation Serif","Times New Roman",serif' font-size="9.5" font-weight="bold" font-style="normal" text-anchor="middle" fill="#000">8.0</text>
<text x="302.8" y="508.53" font-family='"Liberation Serif","Times New Roman",serif' font-size="9.5" font-weight="bold" font-style="normal" text-anchor="end" fill="#000">0.00</text>
<text x="302.8" y="481.71" font-family='"Liberation Serif","Times New Roman",serif' font-size="9.5" font-weight="bold" font-style="normal" text-anchor="end" fill="#000">0.02</text>
<text x="302.8" y="454.89" font-family='"Liberation Serif","Times New Roman",serif' font-size="9.5" font-weight="bold" font-style="normal" text-anchor="end" fill="#000">0.04</text>
<text x="302.8" y="428.07" font-family='"Liberation Serif","Times New Roman",serif' font-size="9.5" font-weight="bold" font-style="normal" text-anchor="end" fill="#000">0.06</text>
<text x="302.8" y="401.25" font-family='"Liberation Serif","Times New Roman",serif' font-size="9.5" font-weight="bold" font-style="normal" text-anchor="end" fill="#000">0.08</text>
<text x="302.8" y="374.43" font-family='"Liberation Serif","Times New Roman",serif' font-size="9.5" font-weight="bold" font-style="normal" text-anchor="end" fill="#000">0.10</text>
<path d="M326.6 518.8V521.6M326.6 371.3V368.5M363.18 518.8V521.6M363.18 371.3V368.5M399.76 518.8V521.6M399.76 371.3V368.5M436.34 518.8V521.6M436.34 371.3V368.5M472.92 518.8V521.6M472.92 371.3V368.5M344.89 518.8V520.3M344.89 371.3V369.8M381.47 518.8V520.3M381.47 371.3V369.8M418.05 518.8V520.3M418.05 371.3V369.8M454.63 518.8V520.3M454.63 371.3V369.8M491.21 518.8V520.3M491.21 371.3V369.8M308.4 505.4H305.6M491.7 505.4H494.5M308.4 478.58H305.6M491.7 478.58H494.5M308.4 451.76H305.6M491.7 451.76H494.5M308.4 424.94H305.6M491.7 424.94H494.5M308.4 398.12H305.6M491.7 398.12H494.5M308.4 371.3H305.6M491.7 371.3H494.5M308.4 491.99H306.9M491.7 491.99H493.2M308.4 465.17H306.9M491.7 465.17H493.2M308.4 438.35H306.9M491.7 438.35H493.2M308.4 411.53H306.9M491.7 411.53H493.2M308.4 384.71H306.9M491.7 384.71H493.2" stroke="#2a2a2a" stroke-width="0.9" fill="none"/>
<text x="399.55" y="549" font-family='"Liberation Serif","Times New Roman",serif' font-size="12.55" font-weight="bold" font-style="normal" text-anchor="middle" fill="#000">Pressure/kPa</text>
<text transform="translate(272.5,442.2) rotate(-90)" font-family='"Liberation Serif","Times New Roman",serif' font-size="16.5" font-weight="bold" text-anchor="middle" letter-spacing="0.55" fill="#000">Δ<tspan font-style="italic">C</tspan>/<tspan font-style="italic">C</tspan><tspan font-size="10.23" dy="4.62">0</tspan></text>
<path d="M326.3 496.3L478 374.3" stroke="#e8141e" stroke-width="1.1" fill="none"/>
<rect x="324.45" y="503.7" width="3.6" height="3.6" fill="#e0141e"/>
<rect x="344.45" y="479.95" width="3.6" height="3.6" fill="#e0141e"/>
<rect x="359.45" y="465.7" width="3.6" height="3.6" fill="#e0141e"/>
<rect x="371.2" y="450.7" width="3.6" height="3.6" fill="#e0141e"/>
<rect x="388.7" y="434.45" width="3.6" height="3.6" fill="#e0141e"/>
<rect x="422.7" y="416.95" width="3.6" height="3.6" fill="#e0141e"/>
<rect x="433.2" y="399.95" width="3.6" height="3.6" fill="#e0141e"/>
<rect x="476.2" y="381.2" width="3.6" height="3.6" fill="#e0141e"/>
<text x="288.7" y="358.3" font-family='"Liberation Serif","Times New Roman",serif' font-size="16" font-weight="bold" font-style="normal" text-anchor="start" fill="#000">(e)</text>
<text x="100.2" y="482.5" font-family='"Liberation Serif","Times New Roman",serif' font-size="10.5" font-weight="bold" fill="#111">Slope=0.0675±0.0038 kPa<tspan font-size="6.51" dy="-4.41">-1</tspan></text>
<text x="88.6" y="495.2" font-size="10.5" font-weight="bold" font-style="italic" fill="#111"><tspan font-family='"Liberation Sans",Arial,sans-serif' font-size="9.24">Linearity</tspan><tspan font-family='"Liberation Serif","Times New Roman",serif' font-size="11.13">=12.84%±2.17%</tspan></text>
<text x="369" y="475" font-family='"Liberation Serif","Times New Roman",serif' font-size="10.5" font-weight="bold" fill="#e8141e">Slope=0.0110±0.0007 kPa<tspan font-size="6.51" dy="-4.41">-1</tspan></text>
<text x="353.8" y="491" font-size="10.5" font-weight="bold" font-style="italic" fill="#e8141e"><tspan font-family='"Liberation Sans",Arial,sans-serif' font-size="9.24">Linearity</tspan><tspan font-family='"Liberation Serif","Times New Roman",serif' font-size="10.66">=6.66%±0.76%</tspan></text>
<rect x="67.7" y="376.3" width="72.1" height="37.9" fill="#fff" stroke="#c8c8c8" stroke-width="0.4"/>
<path d="M67.7 380.51H139.8M67.7 384.72H139.8M67.7 388.93H139.8M67.7 393.14H139.8M67.7 397.36H139.8M67.7 401.57H139.8M67.7 405.78H139.8M67.7 409.99H139.8M105.2 376.3V414.2" stroke="#dcdcdc" stroke-width="0.3" fill="none"/>
<text x="68.9" y="379.58" font-family='"Liberation Sans",Arial,sans-serif' font-size="3.1" font-weight="normal" font-style="normal" text-anchor="start" fill="#444">Equation</text>
<text x="122.5" y="379.58" font-family='"Liberation Sans",Arial,sans-serif' font-size="3.1" font-weight="normal" font-style="normal" text-anchor="middle" fill="#444">y = a + b*x</text>
<text x="68.9" y="383.8" font-family='"Liberation Sans",Arial,sans-serif' font-size="3.1" font-weight="normal" font-style="normal" text-anchor="start" fill="#444">Plot</text>
<text x="122.5" y="383.8" font-family='"Liberation Sans",Arial,sans-serif' font-size="3.1" font-weight="normal" font-style="normal" text-anchor="middle" fill="#444">B</text>
<text x="68.9" y="388.01" font-family='"Liberation Sans",Arial,sans-serif' font-size="3.1" font-weight="normal" font-style="normal" text-anchor="start" fill="#444">Weight</text>
<text x="122.5" y="388.01" font-family='"Liberation Sans",Arial,sans-serif' font-size="3.1" font-weight="normal" font-style="normal" text-anchor="middle" fill="#444">No Weighting</text>
<text x="68.9" y="392.22" font-family='"Liberation Sans",Arial,sans-serif' font-size="3.1" font-weight="normal" font-style="normal" text-anchor="start" fill="#444">Intercept</text>
<text x="122.5" y="392.22" font-family='"Liberation Sans",Arial,sans-serif' font-size="3.1" font-weight="normal" font-style="normal" text-anchor="middle" fill="#444">0.00286 ± 0.00918</text>
<text x="68.9" y="396.43" font-family='"Liberation Sans",Arial,sans-serif' font-size="3.1" font-weight="normal" font-style="normal" text-anchor="start" fill="#444">Slope</text>
<text x="122.5" y="396.43" font-family='"Liberation Sans",Arial,sans-serif' font-size="3.1" font-weight="normal" font-style="normal" text-anchor="middle" fill="#444">6.75588E-2 ± 3.80464E-3</text>
<text x="68.9" y="400.64" font-family='"Liberation Sans",Arial,sans-serif' font-size="3.1" font-weight="normal" font-style="normal" text-anchor="start" fill="#444">Residual Sum of Squares</text>
<text x="122.5" y="400.64" font-family='"Liberation Sans",Arial,sans-serif' font-size="3.1" font-weight="normal" font-style="normal" text-anchor="middle" fill="#444">0.00204</text>
<text x="68.9" y="404.85" font-family='"Liberation Sans",Arial,sans-serif' font-size="3.1" font-weight="normal" font-style="normal" text-anchor="start" fill="#444">Pearson's r</text>
<text x="122.5" y="404.85" font-family='"Liberation Sans",Arial,sans-serif' font-size="3.1" font-weight="normal" font-style="normal" text-anchor="middle" fill="#444">0.98755</text>
<text x="68.9" y="409.06" font-family='"Liberation Sans",Arial,sans-serif' font-size="3.1" font-weight="normal" font-style="normal" text-anchor="start" fill="#444">R-Square (COD)</text>
<text x="122.5" y="409.06" font-family='"Liberation Sans",Arial,sans-serif' font-size="3.1" font-weight="normal" font-style="normal" text-anchor="middle" fill="#444">0.97525</text>
<text x="68.9" y="413.27" font-family='"Liberation Sans",Arial,sans-serif' font-size="3.1" font-weight="normal" font-style="normal" text-anchor="start" fill="#444">Adj. R-Square</text>
<text x="122.5" y="413.27" font-family='"Liberation Sans",Arial,sans-serif' font-size="3.1" font-weight="normal" font-style="normal" text-anchor="middle" fill="#444">0.97216</text>
<rect x="335" y="379.3" width="73.3" height="36.9" fill="#fff" stroke="#c8c8c8" stroke-width="0.4"/>
<path d="M335 383.4H408.3M335 387.5H408.3M335 391.6H408.3M335 395.7H408.3M335 399.8H408.3M335 403.9H408.3M335 408H408.3M335 412.1H408.3M371.8 379.3V416.2" stroke="#dcdcdc" stroke-width="0.3" fill="none"/>
<text x="336.2" y="382.5" font-family='"Liberation Sans",Arial,sans-serif' font-size="3.1" font-weight="normal" font-style="normal" text-anchor="start" fill="#444">Equation</text>
<text x="390.05" y="382.5" font-family='"Liberation Sans",Arial,sans-serif' font-size="3.1" font-weight="normal" font-style="normal" text-anchor="middle" fill="#444">y = a + b*x</text>
<text x="336.2" y="386.6" font-family='"Liberation Sans",Arial,sans-serif' font-size="3.1" font-weight="normal" font-style="normal" text-anchor="start" fill="#444">Plot</text>
<text x="390.05" y="386.6" font-family='"Liberation Sans",Arial,sans-serif' font-size="3.1" font-weight="normal" font-style="normal" text-anchor="middle" fill="#444">B</text>
<text x="336.2" y="390.7" font-family='"Liberation Sans",Arial,sans-serif' font-size="3.1" font-weight="normal" font-style="normal" text-anchor="start" fill="#444">Weight</text>
<text x="390.05" y="390.7" font-family='"Liberation Sans",Arial,sans-serif' font-size="3.1" font-weight="normal" font-style="normal" text-anchor="middle" fill="#444">No Weighting</text>
<text x="336.2" y="394.8" font-family='"Liberation Sans",Arial,sans-serif' font-size="3.1" font-weight="normal" font-style="normal" text-anchor="start" fill="#444">Intercept</text>
<text x="390.05" y="394.8" font-family='"Liberation Sans",Arial,sans-serif' font-size="3.1" font-weight="normal" font-style="normal" text-anchor="middle" fill="#444">0.00678 ± 0.00326</text>
<text x="336.2" y="398.9" font-family='"Liberation Sans",Arial,sans-serif' font-size="3.1" font-weight="normal" font-style="normal" text-anchor="start" fill="#444">Slope</text>
<text x="390.05" y="398.9" font-family='"Liberation Sans",Arial,sans-serif' font-size="3.1" font-weight="normal" font-style="normal" text-anchor="middle" fill="#444">1.10343E-2 ± 7.06674E-4</text>
<text x="336.2" y="403" font-family='"Liberation Sans",Arial,sans-serif' font-size="3.1" font-weight="normal" font-style="normal" text-anchor="start" fill="#444">Residual Sum of Squares</text>
<text x="390.05" y="403" font-family='"Liberation Sans",Arial,sans-serif' font-size="3.1" font-weight="normal" font-style="normal" text-anchor="middle" fill="#444">1.78046E-4</text>
<text x="336.2" y="407.1" font-family='"Liberation Sans",Arial,sans-serif' font-size="3.1" font-weight="normal" font-style="normal" text-anchor="start" fill="#444">Pearson's r</text>
<text x="390.05" y="407.1" font-family='"Liberation Sans",Arial,sans-serif' font-size="3.1" font-weight="normal" font-style="normal" text-anchor="middle" fill="#444">0.98679</text>
<text x="336.2" y="411.2" font-family='"Liberation Sans",Arial,sans-serif' font-size="3.1" font-weight="normal" font-style="normal" text-anchor="start" fill="#444">R-Square (COD)</text>
<text x="390.05" y="411.2" font-family='"Liberation Sans",Arial,sans-serif' font-size="3.1" font-weight="normal" font-style="normal" text-anchor="middle" fill="#444">0.97375</text>
<text x="336.2" y="415.3" font-family='"Liberation Sans",Arial,sans-serif' font-size="3.1" font-weight="normal" font-style="normal" text-anchor="start" fill="#444">Adj. R-Square</text>
<text x="390.05" y="415.3" font-family='"Liberation Sans",Arial,sans-serif' font-size="3.1" font-weight="normal" font-style="normal" text-anchor="middle" fill="#444">0.96937</text>
<text x="1.5" y="12.2" font-family='"Liberation Serif","Times New Roman",serif' font-size="16" font-weight="bold" font-style="normal" text-anchor="start" fill="#000">(a)</text>
</svg></body></html>
